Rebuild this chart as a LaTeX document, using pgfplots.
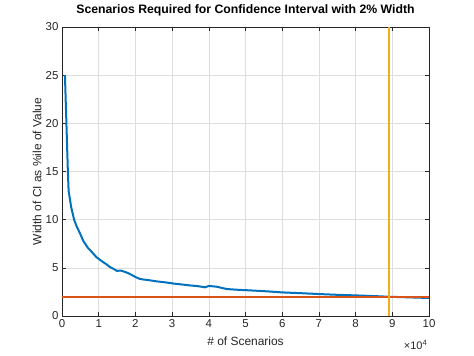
\documentclass[border=0pt]{standalone}
\usepackage{fontspec}
\setmainfont{Liberation Sans}
\usepackage{pgfplots}
\pgfplotsset{compat=1.18}
\definecolor{mblue}{rgb}{0,0.447,0.741}
\definecolor{mred}{rgb}{0.85,0.325,0.098}
\definecolor{myellow}{rgb}{0.929,0.694,0.125}
\definecolor{axgray}{gray}{0.15}
\begin{document}
\begin{tikzpicture}[x=1bp,y=1bp]
\useasboundingbox (0,0) rectangle (474,355);
\begin{axis}[
  at={(62bp,39bp)}, anchor=south west,
  scale only axis, width=367bp, height=289bp,
  clip mode=individual,
  xmin=0, xmax=100000, ymin=0, ymax=30,
  xtick={0,10000,...,100000}, xticklabels={0,1,2,3,4,5,6,7,8,9,10},
  scaled x ticks=false,
  ytick={0,5,...,30},
  grid=major, major grid style={black!13, line width=0.5pt},
  tick align=inside, major tick length=4bp, tick pos=both,
  axis line style={axgray, line width=0.5pt},
  every tick/.style={axgray, line width=0.5pt},
  tick label style={font=\fontsize{11.5}{13}\selectfont, text=axgray},
  /pgf/number format/assume math mode=true,
  title={Scenarios Required for Confidence Interval with 2\% Width},
  title style={font=\bfseries\fontsize{12.3}{14}\selectfont, at={(axis description cs:0.5,1.038)}, anchor=center},
  xlabel={\# of Scenarios},
  xlabel style={font=\fontsize{12}{14}\selectfont, text=axgray, at={(axis description cs:0.5,-0.0865)}, anchor=center},
  ylabel={Width of CI as \%ile of Value},
  ylabel style={font=\fontsize{12}{14}\selectfont, text=axgray, at={(axis description cs:-0.068,0.5)}, anchor=center},
]
\addplot[mblue, line width=2bp] coordinates {
(800,25.0) (1600,15.0) (1800,13.0) (2500,11.3) (3300,10.0) (4000,9.3)
(5000,8.5) (5800,7.8) (7000,7.1) (8000,6.7) (9400,6.1) (11000,5.65)
(12000,5.4) (13000,5.1) (14000,4.9) (15000,4.68) (16000,4.72) (17000,4.6)
(18000,4.45) (19300,4.2) (20000,4.05) (21100,3.86) (22000,3.8) (24000,3.7)
(25700,3.6) (28000,3.5) (30400,3.37) (32000,3.3) (35000,3.17) (37000,3.1)
(39000,2.98) (40000,3.12) (42000,3.05) (44900,2.8) (48000,2.72) (51200,2.66)
(56300,2.55) (60000,2.45) (65000,2.37) (70000,2.28) (75000,2.2) (80000,2.14)
(85000,2.07) (89000,2.0) (95000,1.93) (100000,1.87)
};
\addplot[mred, line width=2bp] coordinates {(0,2) (100000,2)};
\addplot[myellow, line width=2bp] coordinates {(89000,0) (89000,30)};
\node[anchor=east, text=axgray, font=\fontsize{11}{13}\selectfont] at (rel axis cs:1.005,-0.1) {×10\textsuperscript{4}};
\end{axis}
\end{tikzpicture}
\end{document}
